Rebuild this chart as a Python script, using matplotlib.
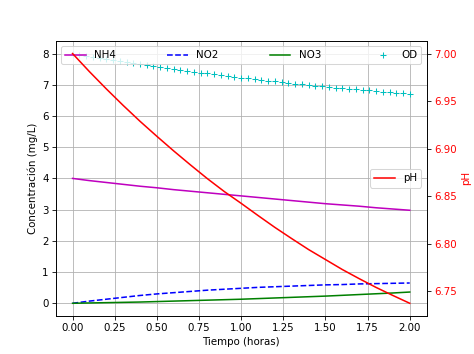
import matplotlib
matplotlib.use("Agg")
import matplotlib.pyplot as plt

# time grid for the smooth lines (hours)
t_line = [0.0, 0.1, 0.2, 0.3, 0.4, 0.5, 0.6, 0.7, 0.8, 0.9, 1.0,
          1.1, 1.2, 1.3, 1.4, 1.5, 1.6, 1.7, 1.8, 1.9, 2.0]

nh4 = [4.00, 3.93, 3.87, 3.81, 3.75, 3.70, 3.64, 3.59, 3.54, 3.49, 3.44,
       3.39, 3.34, 3.29, 3.24, 3.19, 3.15, 3.11, 3.06, 3.02, 2.98]
no2 = [0.00, 0.07, 0.13, 0.19, 0.25, 0.30, 0.34, 0.38, 0.42, 0.45, 0.48,
       0.51, 0.53, 0.55, 0.57, 0.59, 0.60, 0.62, 0.63, 0.64, 0.65]
no3 = [0.00, 0.01, 0.02, 0.03, 0.04, 0.055, 0.07, 0.085, 0.10, 0.115, 0.13,
       0.15, 0.17, 0.19, 0.21, 0.23, 0.255, 0.28, 0.305, 0.33, 0.36]
ph = [7.0000, 6.9810, 6.9629, 6.9455, 6.9288, 6.9130, 6.8976, 6.8828, 6.8684,
      6.8549, 6.8425, 6.8297, 6.8172, 6.8054, 6.7939, 6.7834, 6.7729, 6.7633,
      6.7541, 6.7456, 6.7374]

# time grid for dissolved oxygen markers (hours)
t_od = [0.00, 0.04, 0.08, 0.12, 0.16, 0.20, 0.24, 0.28, 0.32, 0.36, 0.40,
        0.44, 0.48, 0.52, 0.56, 0.60, 0.64, 0.68, 0.72, 0.76, 0.80, 0.84,
        0.88, 0.92, 0.96, 1.00, 1.04, 1.08, 1.12, 1.16, 1.20, 1.24, 1.28,
        1.32, 1.36, 1.40, 1.44, 1.48, 1.52, 1.56, 1.60, 1.64, 1.68, 1.72,
        1.76, 1.80, 1.84, 1.88, 1.92, 1.96, 2.00]
od = [8.000, 7.964, 7.929, 7.894, 7.859, 7.825, 7.791, 7.758, 7.725, 7.693,
      7.661, 7.629, 7.598, 7.567, 7.537, 7.507, 7.477, 7.448, 7.419, 7.391,
      7.363, 7.336, 7.309, 7.282, 7.256, 7.230, 7.205, 7.180, 7.155, 7.131,
      7.107, 7.084, 7.061, 7.039, 7.016, 6.995, 6.974, 6.953, 6.932, 6.912,
      6.893, 6.874, 6.855, 6.837, 6.819, 6.801, 6.784, 6.768, 6.751, 6.735,
      6.720]

fig, ax1 = plt.subplots(figsize=(474 / 74, 354 / 74), dpi=74)
fig.subplots_adjust(left=0.1175, right=0.900, top=0.884, bottom=0.108)

ax1.plot(t_line, nh4, 'm-', label='NH4')
ax1.plot(t_line, no2, 'b--', label='NO2')
ax1.plot(t_line, no3, 'g-', label='NO3')
ax1.plot(t_od, od, 'c+', label='OD')
ax1.set_xlabel('Tiempo (horas)')
ax1.set_ylabel('Concentración (mg/L)')
ax1.grid(True)
ax1.legend(loc='upper left', ncol=4, mode='expand',
           bbox_to_anchor=(0, 1, 1, 0))

ax2 = ax1.twinx()
ax2.plot(t_line, ph, 'r-', label='pH')
ax2.set_ylabel('pH', color='r')
ax2.tick_params(axis='y', labelcolor='r')
ax2.legend(loc='center right')

fig.savefig('out.png', dpi=74)
